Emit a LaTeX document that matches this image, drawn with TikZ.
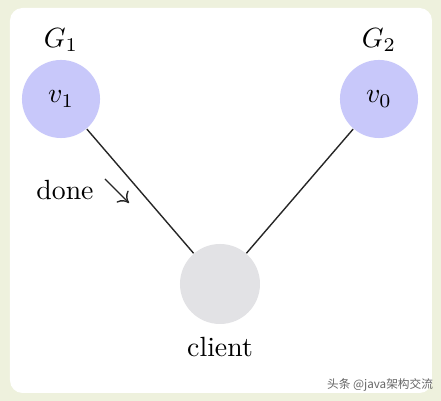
\documentclass[tikz,border=0pt]{standalone}
\usepackage{fontspec}
\newfontfamily\cjk{Noto Sans CJK SC}
\usetikzlibrary{arrows.meta}
\definecolor{framebg}{RGB}{238,241,221}
\definecolor{vblue}{RGB}{200,200,250}
\definecolor{cgray}{RGB}{226,226,229}
\tikzset{
  vert/.style={circle, fill=vblue, draw=none, minimum size=28.1pt, inner sep=0pt, font=\fontsize{10}{12}\selectfont},
  clientnode/.style={circle, fill=cgray, draw=none, minimum size=28.8pt, inner sep=0pt},
  lbl/.style={inner sep=0pt, font=\fontsize{10}{12}\selectfont},
  edge/.style={draw=black!85, line width=0.5pt},
}
\begin{document}
\begin{tikzpicture}[x=0.36pt, y=-0.36pt]
\useasboundingbox (0,0) rectangle (441,401);
\fill[framebg] (0,0) rectangle (441,401);
\fill[white, rounded corners=4.5pt] (10,8) rectangle (432,393);
\node[vert] (v1) at (61,99) {$v_1$};
\node[vert] (v0) at (379,99) {$v_0$};
\node[clientnode] (cl) at (220,284) {};
\node[lbl] (g1) at (61,40) {$G_1$};
\node[lbl] (g2) at (379,40) {$G_2$};
\node[lbl] (clt) at (220,347) {client};
\node[lbl] (done) at (65,190) {done};
\coordinate (a1) at (105,179);
\coordinate (a2) at (129,203);
\draw[edge] (v1) -- (cl);
\draw[edge] (v0) -- (cl);
\draw[edge, -{To[length=3.5pt,width=6pt]}] (a1) -- (a2);
\node[inner sep=0pt, text=black!60, font=\cjk\fontsize{4.2}{5}\selectfont] (wm) at (380,385) {头条 @java架构交流};
\end{tikzpicture}
\end{document}
